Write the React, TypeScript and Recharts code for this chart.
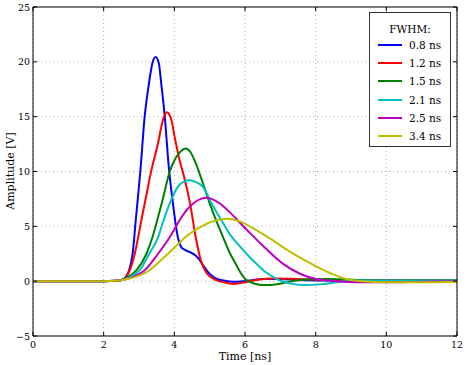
import React from 'react';
import { LineChart, Line, XAxis, YAxis, CartesianGrid } from 'recharts';

// pulse shapes: [time ns, amplitude V]
const fwhm08: [number, number][] = [
  [0, 0], [2, 0], [2.35, 0.03], [2.5, 0.1], [2.63, 0.4], [2.72, 1.0], [2.82, 2.5], [2.91, 5.6],
  [3.04, 10.1], [3.16, 15.0], [3.28, 18.0], [3.38, 19.9], [3.47, 20.45], [3.56, 19.9], [3.63, 18.0],
  [3.73, 15.0], [3.84, 10.5], [3.96, 7.1], [4.1, 4.0], [4.2, 3.1], [4.3, 2.85], [4.44, 2.65],
  [4.6, 2.35], [4.7, 2.0], [4.81, 1.46], [4.95, 0.85], [5.1, 0.4], [5.25, 0.15], [5.5, 0.0],
  [5.8, -0.05], [6.1, 0.05], [6.5, 0.2], [7.0, 0.2], [7.5, 0.1], [8.5, 0.05], [12, 0.05],
];

const fwhm12: [number, number][] = [
  [0, 0], [2, 0], [2.35, 0.03], [2.5, 0.1], [2.62, 0.3], [2.74, 1.0], [2.88, 2.5], [3.07, 5.6],
  [3.2, 7.7], [3.35, 10.1], [3.54, 12.6], [3.67, 14.6], [3.79, 15.4], [3.9, 14.9], [4.03, 12.8],
  [4.15, 11.0], [4.27, 9.6], [4.45, 7.0], [4.6, 4.1], [4.75, 1.9], [4.92, 0.7], [5.15, 0.15],
  [5.4, -0.1], [5.7, -0.25], [6.0, -0.1], [6.4, 0.15], [6.8, 0.25], [7.5, 0.2], [8.5, 0.1], [12, 0.05],
];

const fwhm15: [number, number][] = [
  [0, 0], [2, 0], [2.35, 0.03], [2.5, 0.1], [2.7, 0.4], [2.93, 1.0], [3.21, 2.5], [3.38, 4.0],
  [3.52, 5.6], [3.66, 7.3], [3.87, 10.0], [4.05, 11.3], [4.2, 11.9], [4.32, 12.1], [4.45, 11.8],
  [4.6, 10.8], [4.78, 9.2], [5.0, 7.1], [5.2, 5.4], [5.38, 4.0], [5.55, 2.7], [5.75, 1.5],
  [5.88, 0.75], [6.04, 0.1], [6.3, -0.25], [6.6, -0.36], [6.95, -0.25], [7.26, -0.05], [7.73, 0.15],
  [8.3, 0.2], [8.8, 0.17], [9.3, 0.1], [10, 0.05], [12, 0.05],
];

const fwhm21: [number, number][] = [
  [0, 0], [2, 0], [2.35, 0.03], [2.5, 0.1], [2.75, 0.4], [3.02, 1.0], [3.29, 2.5], [3.54, 4.0],
  [3.7, 5.6], [3.87, 7.1], [4.1, 8.6], [4.28, 9.1], [4.44, 9.2], [4.6, 9.05], [4.81, 8.6],
  [5.05, 7.1], [5.33, 5.56], [5.61, 4.1], [5.85, 3.2], [6.1, 2.3], [6.32, 1.6], [6.55, 0.9],
  [6.79, 0.4], [7.0, 0.05], [7.26, -0.2], [7.64, -0.36], [8.2, -0.27], [8.67, -0.06], [9.24, 0.05],
  [10, 0.05], [12, 0.05],
];

const fwhm25: [number, number][] = [
  [0, 0], [2, 0], [2.35, 0.03], [2.5, 0.1], [2.8, 0.35], [3.16, 1.0], [3.54, 2.5], [3.87, 4.0],
  [4.15, 5.56], [4.35, 6.5], [4.58, 7.2], [4.75, 7.5], [4.9, 7.6], [5.05, 7.5], [5.28, 7.1],
  [5.5, 6.5], [5.66, 6.0], [5.85, 5.35], [6.2, 4.2], [6.55, 3.1], [7.07, 1.6], [7.54, 0.7],
  [8.01, 0.2], [8.58, 0.0], [9.2, -0.1], [10, -0.1], [11, -0.05], [12, 0],
];

const fwhm34: [number, number][] = [
  [0, 0], [2, 0], [2.35, 0.03], [2.6, 0.15], [3.0, 0.5], [3.3, 1.0], [3.55, 1.7], [3.82, 2.5],
  [4.05, 3.2], [4.34, 4.1], [4.77, 5.0], [5.19, 5.55], [5.47, 5.7], [5.7, 5.6], [5.85, 5.45],
  [6.32, 4.65], [6.7, 3.9], [7.07, 3.1], [7.47, 2.3], [7.87, 1.6], [8.44, 0.7], [8.86, 0.2],
  [9.33, 0.0], [10, -0.1], [11, -0.1], [12, -0.05],
];

const xTicks = [0, 2, 4, 6, 8, 10, 12];
const yTicks = [-5, 0, 5, 10, 15, 20, 25];

const series = [
  { name: '0.8 ns', color: '#0000ff', points: fwhm08 },
  { name: '1.2 ns', color: '#ff0000', points: fwhm12 },
  { name: '1.5 ns', color: '#008000', points: fwhm15 },
  { name: '2.1 ns', color: '#00bfbf', points: fwhm21 },
  { name: '2.5 ns', color: '#bf00bf', points: fwhm25 },
  { name: '3.4 ns', color: '#bfbf00', points: fwhm34 },
];

const FONT = '"DejaVu Serif", serif';
const fmt = (v: number) => (v < 0 ? `\u2212${-v}` : `${v}`);

const LeftTick = ({ x, y, payload }: any) => (
  <g>
    <line x1={x} y1={y} x2={x + 4} y2={y} stroke="#000" />
    <text x={x - 3} y={y + 3.5} textAnchor="end" fontSize={9.5} fontFamily={FONT} fill="#000">
      {fmt(payload.value)}
    </text>
  </g>
);

const RightTick = ({ x, y }: any) => <line x1={x} y1={y} x2={x - 4} y2={y} stroke="#000" />;

const BottomTick = ({ x, y, payload }: any) => (
  <g>
    <line x1={x} y1={y} x2={x} y2={y - 4} stroke="#000" />
    <text x={x} y={y + 11.5} textAnchor="middle" fontSize={9.5} fontFamily={FONT} fill="#000">
      {fmt(payload.value)}
    </text>
  </g>
);

const TopTick = ({ x, y }: any) => <line x1={x} y1={y} x2={x} y2={y + 4} stroke="#000" />;

export default function App() {
  return (
    <div style={{ position: 'absolute', left: 0, top: 0, width: 474, height: 365, background: '#fff' }}>
      <LineChart width={474} height={365} margin={{ top: 0, right: 0, bottom: 0, left: 0 }}>
        <CartesianGrid stroke="#b0b0b0" strokeDasharray="1 3" />
        <XAxis
          dataKey="t"
          type="number"
          domain={[0, 12]}
          ticks={xTicks}
          height={29}
          tickSize={0}
          tickMargin={0}
          tickLine={false}
          stroke="#000"
          tick={<BottomTick />}
          interval={0}
          allowDataOverflow
          label={() => (
            <text x={245} y={360} textAnchor="middle" fontSize={11} fontFamily={FONT} fill="#000">
              Time [ns]
            </text>
          )}
        />
        <XAxis
          xAxisId="top"
          orientation="top"
          dataKey="t"
          type="number"
          domain={[0, 12]}
          ticks={xTicks}
          height={7}
          tickSize={0}
          tickMargin={0}
          tickLine={false}
          stroke="#000"
          tick={<TopTick />}
          interval={0}
          allowDataOverflow
        />
        <YAxis
          type="number"
          domain={[-5, 25]}
          ticks={yTicks}
          width={33}
          tickSize={0}
          tickMargin={0}
          tickLine={false}
          stroke="#000"
          tick={<LeftTick />}
          interval={0}
          allowDataOverflow
          label={() => (
            <text
              x={10}
              y={171}
              transform="rotate(-90 10 171)"
              textAnchor="middle"
              dominantBaseline="central"
              fontSize={11}
              fontFamily={FONT}
              fill="#000"
            >
              Amplitude [V]
            </text>
          )}
        />
        <YAxis
          yAxisId="right"
          orientation="right"
          type="number"
          domain={[-5, 25]}
          ticks={yTicks}
          width={17}
          tickSize={0}
          tickMargin={0}
          tickLine={false}
          stroke="#000"
          tick={<RightTick />}
          interval={0}
          allowDataOverflow
        />
        {series.map(s => (
          <Line
            key={s.name}
            name={s.name}
            data={s.points.map(([t, v]) => ({ t, v }))}
            dataKey="v"
            type="monotone"
            stroke={s.color}
            strokeWidth={2}
            dot={false}
            activeDot={false}
            isAnimationActive={false}
          />
        ))}
      </LineChart>

      <div
        style={{
          position: 'absolute',
          left: 369,
          top: 12,
          width: 82,
          height: 135,
          border: '1px solid #333',
          background: '#fff',
          fontFamily: FONT,
          fontSize: 10.5,
          color: '#000',
          boxSizing: 'border-box',
        }}
      >
        <div style={{ position: 'absolute', left: 0, width: 80, top: 9, textAlign: 'center', lineHeight: '14px' }}>
          FWHM:
        </div>
        {series.map((s, i) => (
          <div key={s.name} style={{ position: 'absolute', left: 8, top: 25 + i * 18.2, height: 14, display: 'flex', alignItems: 'center' }}>
            <div style={{ width: 24, height: 2, background: s.color }} />
            <span style={{ marginLeft: 7, lineHeight: '14px' }}>{s.name}</span>
          </div>
        ))}
      </div>
    </div>
  );
}
